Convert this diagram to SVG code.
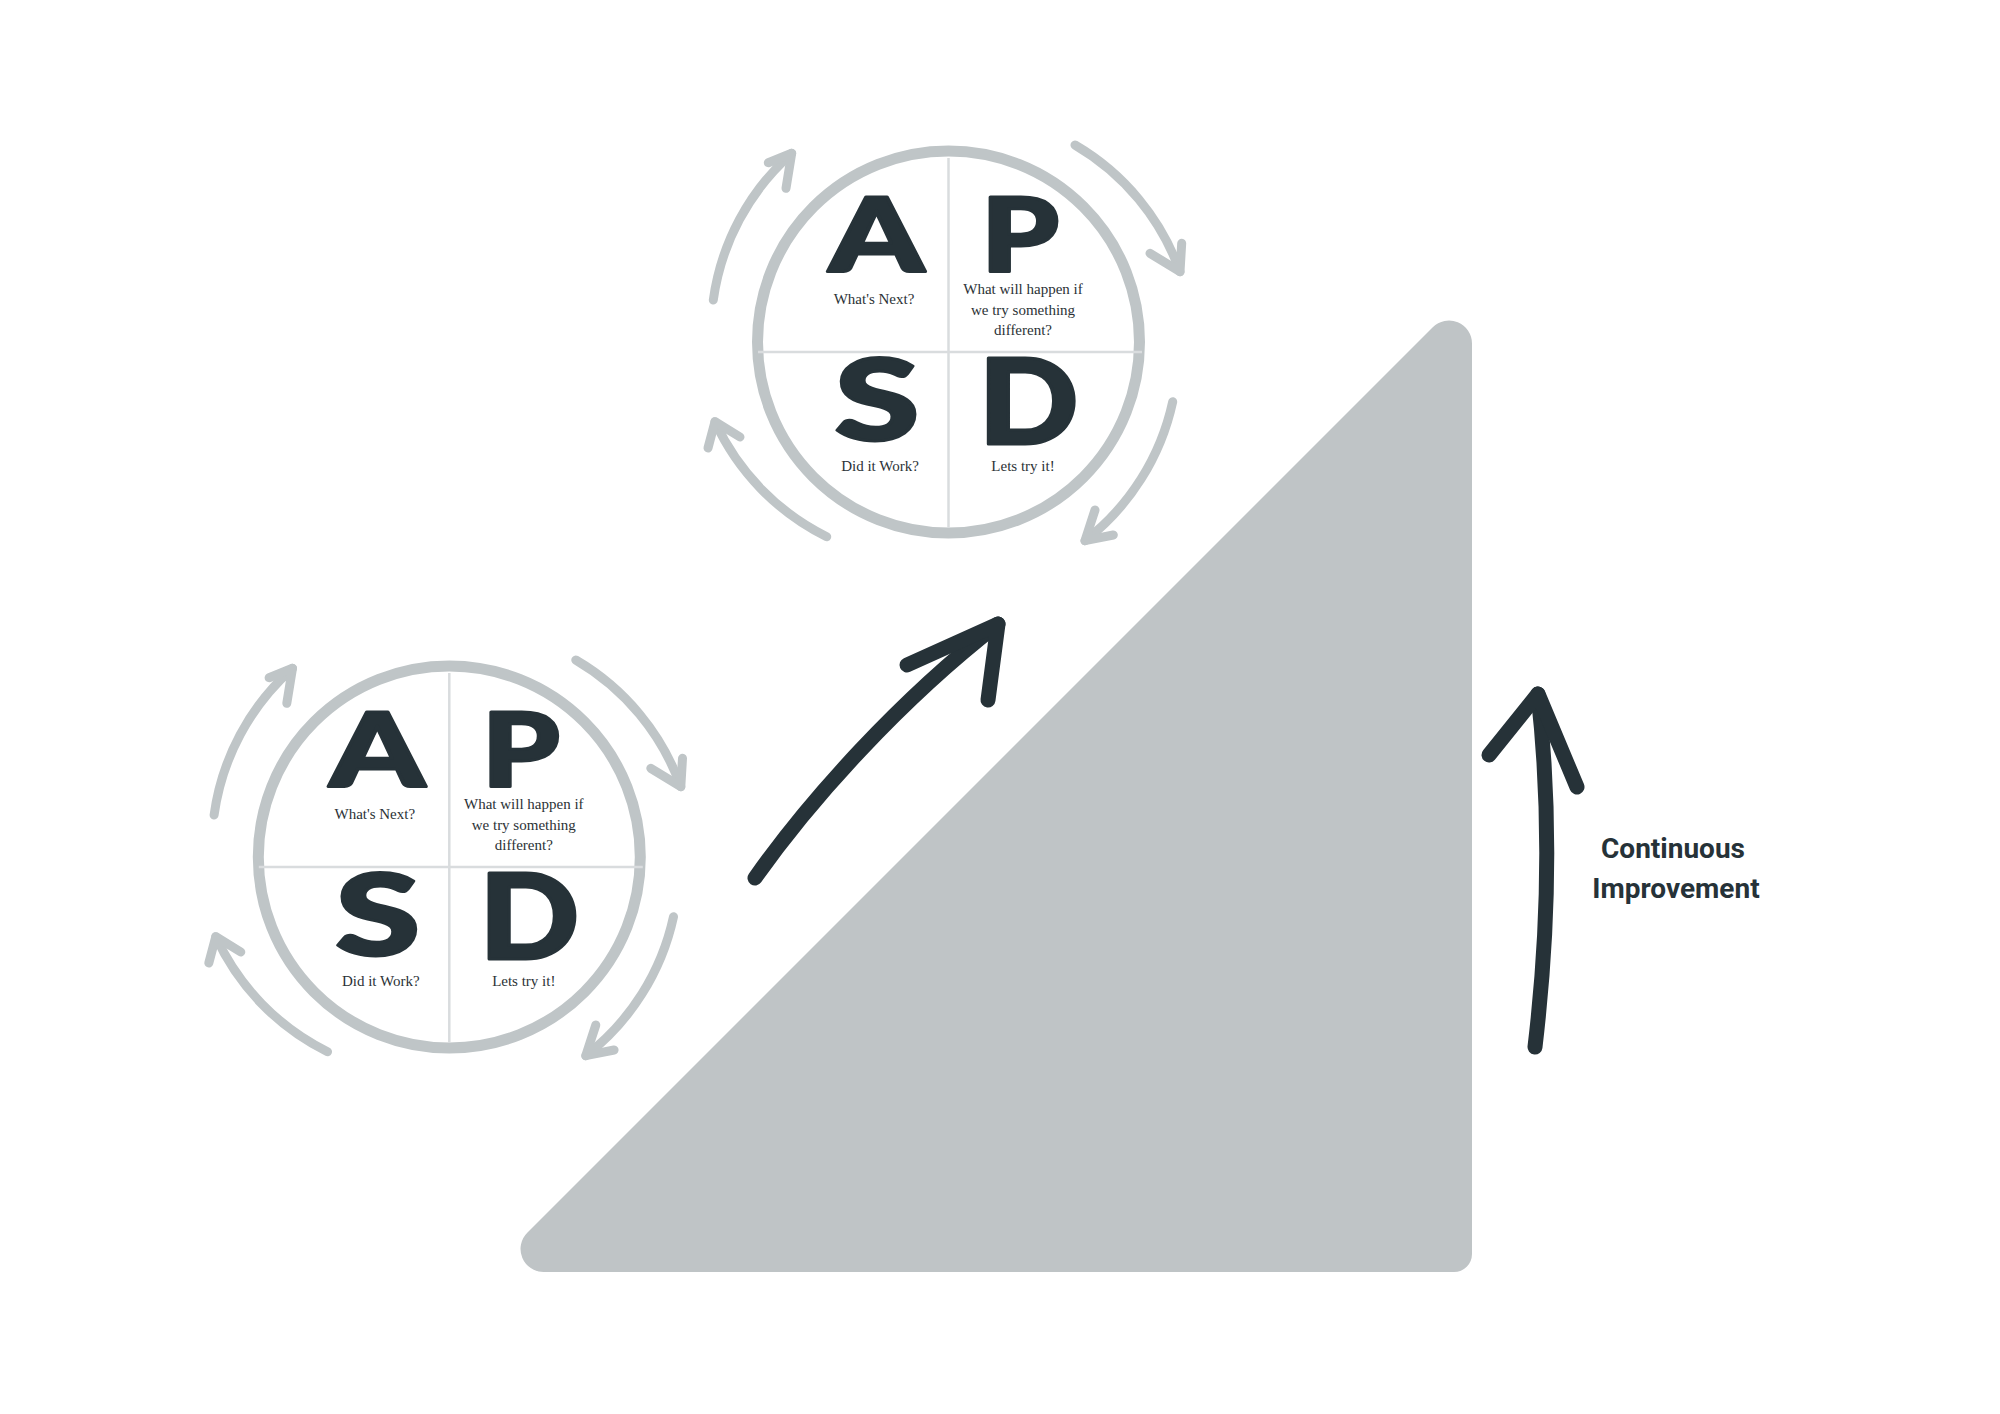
<svg xmlns="http://www.w3.org/2000/svg" width="2000" height="1414" viewBox="0 0 2000 1414">
<style>
.ring{fill:none;stroke:#bfc5c7;stroke-width:11}
.div{stroke:#d9dcde;stroke-width:2.5}
.cyc{fill:none;stroke:#bfc5c7;stroke-width:9;stroke-linecap:round;stroke-linejoin:round}
.big{font-family:Lato,Roboto,Inter,"DejaVu Sans",sans-serif;font-weight:900;fill:#263238;stroke:#263238;stroke-width:3;stroke-linejoin:round}
.small{font-family:"Liberation Serif",serif;font-size:15px;fill:#2b3236;text-anchor:middle}
.dark{fill:none;stroke:#263238;stroke-width:15;stroke-linecap:round;stroke-linejoin:round}
.label{font-family:Roboto,"Liberation Sans",sans-serif;font-weight:700;font-size:28px;fill:#263238;text-anchor:middle}
</style>
<rect width="2000" height="1414" fill="#ffffff"/>
<g id="triangle">
<path d="M 1432.75 327.25 A 23 23 0 0 1 1472 343.5 L 1472 1254 A 18 18 0 0 1 1454 1272 L 543.5 1272 A 23 23 0 0 1 527.25 1232.75 Z" fill="#bfc4c6"/>
</g>
<g id="pdsa-cycle-top">
<circle class="ring" cx="948.5" cy="342" r="191"/>
<line class="div" x1="948.5" y1="158" x2="948.5" y2="528"/>
<line class="div" x1="758" y1="352" x2="1142" y2="352"/>
<text class="big" x="829" y="271.5" font-size="102" textLength="95" lengthAdjust="spacingAndGlyphs">A</text>
<text class="big" x="981" y="271.5" font-size="102" textLength="78" lengthAdjust="spacingAndGlyphs">P</text>
<text class="big" x="834.5" y="440" font-size="112" textLength="85" lengthAdjust="spacingAndGlyphs">S</text>
<text class="big" x="978.5" y="443.5" font-size="118" textLength="100" lengthAdjust="spacingAndGlyphs">D</text>
<text class="small" x="874" y="304">What's Next?</text>
<text class="small" x="1023" y="294">What will happen if</text>
<text class="small" x="1023" y="315">we try something</text>
<text class="small" x="1023" y="335">different?</text>
<text class="small" x="880" y="471">Did it Work?</text>
<text class="small" x="1023" y="471">Lets try it!</text>
<path class="cyc" d="M 713.3 300 A 240 240 0 0 1 791.7 153.3"/>
<path class="cyc" d="M 768.3 162.7 L 791.7 153.3 L 786 188.3"/>
<path class="cyc" d="M 1075 145 A 240 240 0 0 1 1180 271.7"/>
<path class="cyc" d="M 1150 253.3 L 1180 271.7 L 1181.7 243.3"/>
<path class="cyc" d="M 1172.7 401.7 A 240 240 0 0 1 1085 540.7"/>
<path class="cyc" d="M 1095 510 L 1085 540.7 L 1113.3 535"/>
<path class="cyc" d="M 826.7 536.7 A 240 240 0 0 1 715 421.7"/>
<path class="cyc" d="M 740 437 L 715 421.7 L 708 448"/>
</g>
<g id="pdsa-cycle-bottom" transform="translate(-499.2,515)">
<circle class="ring" cx="948.5" cy="342" r="191"/>
<line class="div" x1="948.5" y1="158" x2="948.5" y2="528"/>
<line class="div" x1="758" y1="352" x2="1142" y2="352"/>
<text class="big" x="829" y="271.5" font-size="102" textLength="95" lengthAdjust="spacingAndGlyphs">A</text>
<text class="big" x="981" y="271.5" font-size="102" textLength="78" lengthAdjust="spacingAndGlyphs">P</text>
<text class="big" x="834.5" y="440" font-size="112" textLength="85" lengthAdjust="spacingAndGlyphs">S</text>
<text class="big" x="978.5" y="443.5" font-size="118" textLength="100" lengthAdjust="spacingAndGlyphs">D</text>
<text class="small" x="874" y="304">What's Next?</text>
<text class="small" x="1023" y="294">What will happen if</text>
<text class="small" x="1023" y="315">we try something</text>
<text class="small" x="1023" y="335">different?</text>
<text class="small" x="880" y="471">Did it Work?</text>
<text class="small" x="1023" y="471">Lets try it!</text>
<path class="cyc" d="M 713.3 300 A 240 240 0 0 1 791.7 153.3"/>
<path class="cyc" d="M 768.3 162.7 L 791.7 153.3 L 786 188.3"/>
<path class="cyc" d="M 1075 145 A 240 240 0 0 1 1180 271.7"/>
<path class="cyc" d="M 1150 253.3 L 1180 271.7 L 1181.7 243.3"/>
<path class="cyc" d="M 1172.7 401.7 A 240 240 0 0 1 1085 540.7"/>
<path class="cyc" d="M 1095 510 L 1085 540.7 L 1113.3 535"/>
<path class="cyc" d="M 826.7 536.7 A 240 240 0 0 1 715 421.7"/>
<path class="cyc" d="M 740 437 L 715 421.7 L 708 448"/>
</g>
<g id="connectors">
<path class="dark" d="M 755 878 C 810 800 900 700 998 624"/>
<path class="dark" d="M 907 665 L 998 624 L 988 700"/>
<path class="dark" d="M 1535 1047 C 1550 920 1550 800 1538 694"/>
<path class="dark" d="M 1489 755 L 1538 694 L 1577 787"/>
</g>
<g id="label-continuous-improvement">
<text class="label" x="1673" y="858">Continuous</text>
<text class="label" x="1676" y="898">Improvement</text>
</g>
</svg>
